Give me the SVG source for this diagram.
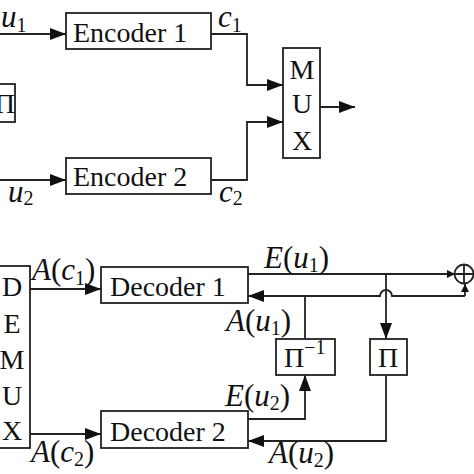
<svg xmlns="http://www.w3.org/2000/svg" width="474" height="474" viewBox="0 0 474 474">
<style>
.box{fill:#fff;stroke:#222;stroke-width:1.8}
.ln{fill:none;stroke:#222;stroke-width:1.8}
text{font-family:"Liberation Serif","Times New Roman",serif;fill:#111;font-size:28px}
.it{font-style:italic;font-size:31px}
.sub{font-size:20px;font-style:normal}
.up{font-style:normal}
</style>
<defs>
<marker id="ah" markerWidth="16" markerHeight="12" refX="16" refY="6" orient="auto" markerUnits="userSpaceOnUse"><path d="M0,0L16,6L0,12z" fill="#111"/></marker>
<marker id="as" markerWidth="8" markerHeight="8" refX="8" refY="4" orient="auto" markerUnits="userSpaceOnUse"><path d="M0,0L8,4L0,8z" fill="#111"/></marker>
</defs>
<g id="connectors">
<path class="ln" d="M0,34H66" marker-end="url(#ah)"/>
<path class="ln" d="M0,180H66" marker-end="url(#ah)"/>
<path class="ln" d="M211,34H247V85H283" marker-end="url(#ah)"/>
<path class="ln" d="M211,180H247V122H283" marker-end="url(#ah)"/>
<path class="ln" d="M320,107H355" marker-end="url(#ah)"/>
<path class="ln" d="M30,289H101" marker-end="url(#ah)"/>
<path class="ln" d="M30,434H101" marker-end="url(#ah)"/>
<path class="ln" d="M248,274H455" marker-end="url(#as)"/>
<path class="ln" d="M386,274V339" marker-end="url(#ah)"/>
<path class="ln" d="M465,296V284" marker-end="url(#as)"/>
<path class="ln" d="M465,296H392A6,6 0 0 0 380,296H248" marker-end="url(#ah)"/>
<path class="ln" d="M305,339V296"/>
<path class="ln" d="M248,419H305V375" marker-end="url(#ah)"/>
<path class="ln" d="M386,375V441H248" marker-end="url(#ah)"/>
</g>
<g id="pi-left"><rect class="box" x="-20" y="84" width="35" height="38"/><text x="15" y="113" text-anchor="end">Π</text></g>
<g id="encoder1"><rect class="box" x="66" y="13" width="145" height="36"/><text x="73" y="42">Encoder 1</text></g>
<g id="encoder2"><rect class="box" x="66" y="158" width="145" height="36"/><text x="73" y="186">Encoder 2</text></g>
<g id="mux"><rect class="box" x="283" y="48" width="37" height="110"/>
<text x="302" y="79" text-anchor="middle">M</text><text x="302" y="113" text-anchor="middle">U</text><text x="302" y="150" text-anchor="middle">X</text></g>
<g id="demux"><rect class="box" x="-20" y="266" width="50" height="182"/>
<text x="12" y="296" text-anchor="middle">D</text><text x="12" y="333" text-anchor="middle">E</text><text x="12" y="369" text-anchor="middle">M</text><text x="12" y="405" text-anchor="middle">U</text><text x="12" y="440" text-anchor="middle">X</text></g>
<g id="decoder1"><rect class="box" x="101" y="267" width="147" height="36"/><text x="110" y="296">Decoder 1</text></g>
<g id="decoder2"><rect class="box" x="101" y="411" width="147" height="37"/><text x="110" y="441">Decoder 2</text></g>
<g id="pi-inv"><rect class="box" x="276" y="339" width="59" height="36"/><text x="284" y="367">Π<tspan class="sub" dy="-13">−1</tspan></text></g>
<g id="pi"><rect class="box" x="370" y="339" width="37" height="36"/><text x="388" y="367" text-anchor="middle">Π</text></g>
<g id="sum"><circle cx="464" cy="274" r="9.5" class="ln"/><path class="ln" d="M454.5,274H473.5M464,264.5V283.5"/></g>
<g id="labels">
<text class="it" x="1" y="27">u<tspan class="sub" dy="5">1</tspan></text>
<text class="it" x="8" y="202">u<tspan class="sub" dy="3">2</tspan></text>
<text class="it" x="218" y="27">c<tspan class="sub" dy="5">1</tspan></text>
<text class="it" x="219" y="202">c<tspan class="sub" dy="3">2</tspan></text>
<text class="it" x="32" y="280">A<tspan class="up">(</tspan>c<tspan class="sub" dy="5">1</tspan><tspan class="up" dy="-5">)</tspan></text>
<text class="it" x="31" y="462">A<tspan class="up">(</tspan>c<tspan class="sub" dy="4">2</tspan><tspan class="up" dy="-4">)</tspan></text>
<text class="it" x="264" y="268">E<tspan class="up">(</tspan>u<tspan class="sub" dy="4">1</tspan><tspan class="up" dy="-4">)</tspan></text>
<text class="it" x="226" y="331">A<tspan class="up">(</tspan>u<tspan class="sub" dy="4">1</tspan><tspan class="up" dy="-4">)</tspan></text>
<text class="it" x="225" y="406">E<tspan class="up">(</tspan>u<tspan class="sub" dy="4">2</tspan><tspan class="up" dy="-4">)</tspan></text>
<text class="it" x="269" y="463">A<tspan class="up">(</tspan>u<tspan class="sub" dy="4">2</tspan><tspan class="up" dy="-4">)</tspan></text>
</g>
</svg>
